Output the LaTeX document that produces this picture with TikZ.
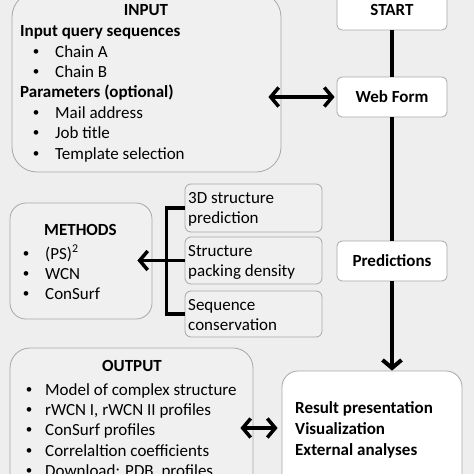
\documentclass[tikz,border=0pt]{standalone}
\usepackage{fontspec}
\setmainfont{Carlito}
\usetikzlibrary{arrows.meta,calc}
\definecolor{bg}{HTML}{EEEEEE}
\definecolor{boxfill}{HTML}{F0F0F0}
\definecolor{boxline}{HTML}{A8A8A8}
\begin{document}
\begin{tikzpicture}[x=1pt,y=-1pt,
  txt/.style={font=\fontsize{17}{20}\selectfont, inner sep=0pt, anchor=base west},
  bul/.style={font=\fontsize{13}{16}\selectfont, inner sep=0pt, anchor=base},
  bold/.style={txt, font=\fontsize{17}{20}\selectfont\bfseries},
  bigbox/.style={draw=boxline, fill=boxfill, line width=0.8pt, inner sep=0pt},
  whitebox/.style={draw=boxline, fill=white, line width=0.8pt, inner sep=0pt, rounded corners=5pt,
     minimum width=110pt, minimum height=40pt, font=\fontsize{17}{20}\selectfont\bfseries},
  smallbox/.style={draw=boxline, fill=boxfill, line width=0.8pt, inner sep=0pt, rounded corners=6pt,
     minimum width=137pt},
  mainline/.style={line width=4pt, black},
  brk/.style={line width=3.5pt, black},
  tipA/.tip={Straight Barb[length=8pt,width=19pt]},
  dbl/.style={line width=3.5pt, black, {tipA}-{tipA}},
  one/.style={line width=3.5pt, black, -{tipA}},
]
\useasboundingbox (0,0) rectangle (474,474);
\fill[bg] (0,0) rectangle (474,474);

% INPUT box
\node[bigbox, rounded corners=25pt, minimum width=269pt, minimum height=180pt] (input) at (146.5,82) {};
\node[bold, anchor=base] (inputT) at (146,15) {INPUT};
\node[bold] (iq) at (20,36) {Input query sequences};
\node[bul] (ib1) at (36,55) {\textbullet};
\node[txt] (ica) at (55,57) {Chain A};
\node[bul] (ib2) at (36,75) {\textbullet};
\node[txt] (icb) at (55,77) {Chain B};
\node[bold] (ip) at (20,97) {Parameters (optional)};
\node[bul] (ib3) at (36,116) {\textbullet};
\node[txt] (ima) at (55,118) {Mail address};
\node[bul] (ib4) at (36,136) {\textbullet};
\node[txt] (ijt) at (55,138) {Job title};
\node[bul] (ib5) at (36,157) {\textbullet};
\node[txt] (its) at (55,159) {Template selection};

% right column
\node[whitebox, minimum height=50pt] (start) at (392,5) {};
\node[bold, anchor=base] (startT) at (392,15.5) {START};
\node[whitebox] (web) at (392,97) {Web Form};
\node[whitebox] (pred) at (392,261) {Predictions};

% small boxes
\node[smallbox, minimum height=48pt] (b1) at (253.5,208) {};
\node[smallbox, minimum height=47pt] (b2) at (253.5,260.5) {};
\node[smallbox, minimum height=46pt] (b3) at (253.5,314) {};
\node[txt] (b1a) at (188,203) {3D structure};
\node[txt] (b1b) at (188,223) {prediction};
\node[txt] (b2a) at (188,256) {Structure};
\node[txt] (b2b) at (188,276) {packing density};
\node[txt] (b3a) at (188,310) {Sequence};
\node[txt] (b3b) at (188,330) {conservation};

% METHODS
\node[bigbox, rounded corners=16pt, minimum width=142pt, minimum height=116pt] (methods) at (81,261) {};
\node[bold] (mT) at (44,235) {METHODS};
\node[bul] (mb1) at (26,257) {\textbullet};
\node[txt] (m1) at (45,259) {(PS)\textsuperscript{2}};
\node[bul] (mb2) at (26,277) {\textbullet};
\node[txt] (m2) at (45,279) {WCN};
\node[bul] (mb3) at (26,297) {\textbullet};
\node[txt] (m3) at (45,299) {ConSurf};

% OUTPUT
\node[bigbox, rounded corners=20pt, minimum width=243pt, minimum height=152pt] (output) at (131.5,424) {};
\node[bold, anchor=base] (oT) at (132,371) {OUTPUT};
\node[bul] (ob1) at (29,393) {\textbullet};
\node[txt] (o1) at (45,395) {Model of complex structure};
\node[bul] (ob2) at (29,413) {\textbullet};
\node[txt] (o2) at (45,415) {rWCN I, rWCN II profiles};
\node[bul] (ob3) at (29,433) {\textbullet};
\node[txt] (o3) at (45,435) {ConSurf profiles};
\node[bul] (ob4) at (29,454) {\textbullet};
\node[txt] (o4) at (45,456) {Correlaltion coefficients};
\node[bul] (ob5) at (29,474) {\textbullet};
\node[txt] (o5) at (45,476) {Download: PDB, profiles};

% Result
\node[draw=boxline, fill=white, line width=0.8pt, rounded corners=16pt, minimum width=180pt, minimum height=129pt, inner sep=0pt] (result) at (372,435.5) {};
\node[bold] (r1) at (295,413) {Result presentation};
\node[bold] (r2) at (295,434) {Visualization};
\node[bold] (r3) at (295,455) {External analyses};

% connectors
\draw[mainline] (start.south) -- (web.north);
\draw[mainline] (web.south) -- (pred.north);
\draw[mainline, -{Straight Barb[length=8pt,width=19pt]}] (pred.south) -- (pred.south |- result.north);
\draw[dbl] ($(input.east |- web.west)+(-13,0)$) -- ($(web.west)+(-2,0)$);
\draw[brk] (b1.west) -- ++(-18,0) coordinate (bt) -- (bt |- b3.west) -- (b3.west);
\draw[brk] (b2.west) -- ++(-18,0) coordinate (bm);
\draw[one] (bm) -- ($(methods.east |- bm)+(-15,0)$);
\draw[dbl] ($(output.east)+(-13,4)$) -- ($(result.west |- output.east)+(-4,4)$);
\end{tikzpicture}
\end{document}
